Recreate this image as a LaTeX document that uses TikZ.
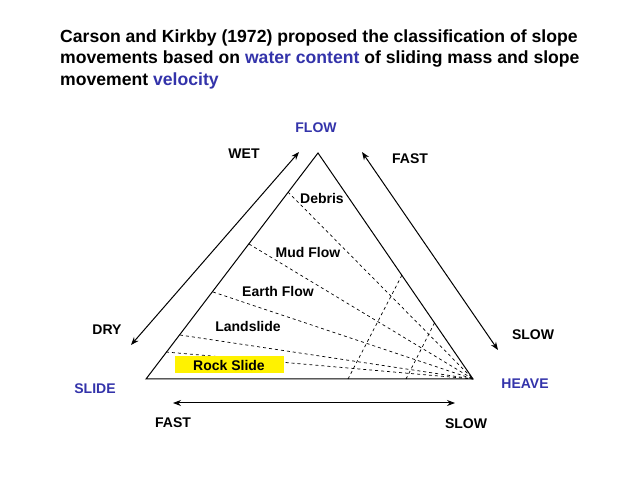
\documentclass[tikz,border=0pt]{standalone}
\usepackage{fontspec}
\setmainfont{Liberation Sans}
\usetikzlibrary{arrows.meta}
\definecolor{tblue}{RGB}{51,51,170}
\begin{document}
\begin{tikzpicture}[x=1pt,y=-1pt,
 lbl/.style={font=\bfseries\fontsize{14}{16}\selectfont, inner sep=1pt},
 blbl/.style={lbl,text=tblue},
 dl/.style={dashed, line width=0.7pt},
 arr/.style={{Stealth[length=8pt]}-{Stealth[length=8pt]}, line width=1pt}]
\useasboundingbox (0,0) rectangle (638,478);
\node[anchor=west, align=left, font=\bfseries\fontsize{17.6}{21.5}\selectfont, inner sep=0] (title) at (60,59)
 {Carson and Kirkby (1972) proposed the classification of slope\\
  movements based on \textcolor{tblue}{water content} of sliding mass and slope\\
  movement \textcolor{tblue}{velocity}};
\coordinate (A) at (318,153);
\coordinate (L) at (146,379);
\coordinate (R) at (473,379);
\foreach \p in {(288,192),(249,244),(213,292),(180,335),(166,352)}
 \draw[dl] \p -- (R);
\draw[dl] (348,379) -- (402,275);
\draw[dl] (406,379) -- (435,322);
\fill[yellow] (175,356) rectangle (284,373);
\draw[line width=1pt] (A) -- (L) -- (R) -- cycle;
\draw[arr] (131,345) -- (299,152);
\draw[arr] (362,152) -- (498,350);
\draw[arr] (173,403) -- (455,403);
\node[blbl] (flow) at (316,128) {FLOW};
\node[lbl] (wet) at (244,154) {WET};
\node[lbl] (fast1) at (410,159) {FAST};
\node[lbl] (deb) at (322,198) {Debris};
\node[lbl] (mud) at (308,252) {Mud Flow};
\node[lbl] (earth) at (278,291) {Earth Flow};
\node[lbl] (land) at (248,326) {Landslide};
\node[lbl] (rock) at (229,365) {Rock Slide};
\node[lbl] (dry) at (107,330) {DRY};
\node[lbl] (slow1) at (533,335) {SLOW};
\node[blbl] (slide) at (95,389) {SLIDE};
\node[blbl] (heave) at (525,384) {HEAVE};
\node[lbl] (fast2) at (173,423) {FAST};
\node[lbl] (slow2) at (466,424) {SLOW};
\end{tikzpicture}
\end{document}
